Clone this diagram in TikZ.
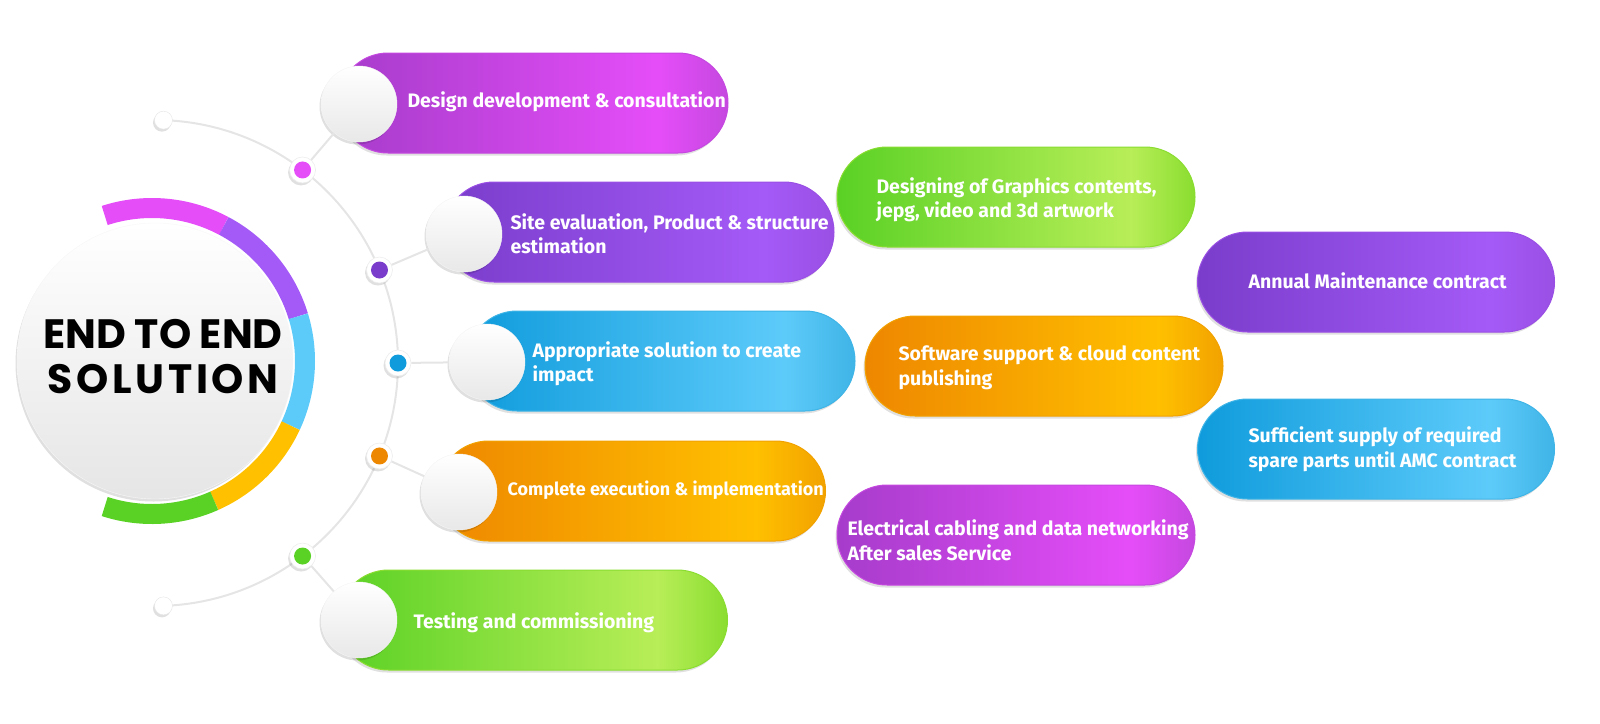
\documentclass[tikz,border=0pt]{standalone}
\usepackage{fontspec}
\setmainfont{Fira Sans}
\newfontfamily\headfont{Poppins}
\usetikzlibrary{shapes.misc,shadows}

% colours of the five themes
\definecolor{magL}{HTML}{A63CCB}\definecolor{magR}{HTML}{E54DF8}\definecolor{magE}{HTML}{C548E0}
\definecolor{purL}{HTML}{7A3DCB}\definecolor{purR}{HTML}{A45AF7}\definecolor{purE}{HTML}{9A4FE4}
\definecolor{bluL}{HTML}{0F9BDC}\definecolor{bluR}{HTML}{5DCBFA}\definecolor{bluE}{HTML}{3FB4E6}
\definecolor{oraL}{HTML}{EE8700}\definecolor{oraR}{HTML}{FFC000}\definecolor{oraE}{HTML}{F2A200}
\definecolor{grnL}{HTML}{5AD125}\definecolor{grnR}{HTML}{B8EE58}\definecolor{grnE}{HTML}{8ADD30}

% sfumature delle pillole (la pillola copre 25bp--75bp)
\pgfdeclarehorizontalshading{shMag}{100bp}{color(0bp)=(magL); color(25bp)=(magL); color(66bp)=(magR); color(75bp)=(magE); color(100bp)=(magE)}
\pgfdeclarehorizontalshading{shPur}{100bp}{color(0bp)=(purL); color(25bp)=(purL); color(66bp)=(purR); color(75bp)=(purE); color(100bp)=(purE)}
\pgfdeclarehorizontalshading{shBlu}{100bp}{color(0bp)=(bluL); color(25bp)=(bluL); color(66bp)=(bluR); color(75bp)=(bluE); color(100bp)=(bluE)}
\pgfdeclarehorizontalshading{shOra}{100bp}{color(0bp)=(oraL); color(25bp)=(oraL); color(66bp)=(oraR); color(75bp)=(oraE); color(100bp)=(oraE)}
\pgfdeclarehorizontalshading{shGrn}{100bp}{color(0bp)=(grnL); color(25bp)=(grnL); color(66bp)=(grnR); color(75bp)=(grnE); color(100bp)=(grnE)}

\tikzset{
  softshadow/.style={drop shadow={shadow xshift=-1.5pt,shadow yshift=-2.5pt,fill=black,opacity=.12}},
  pill/.style 2 args={rounded rectangle, minimum height=100pt, inner sep=0pt,
    shading=#1, draw=#2, line width=1pt, softshadow},
  knob/.style={circle, minimum size=76pt, inner sep=0pt, top color=white, bottom color=black!9,
    draw=black!4, softshadow},
  dot/.style={circle, minimum size=26pt, inner sep=0pt, fill=white, draw=black!7, line width=.6pt,
    softshadow, path picture={\fill[#1] (path picture bounding box.center) circle (8.5pt);}},
  endball/.style={circle, minimum size=18pt, inner sep=0pt, fill=white, draw=black!10, softshadow},
  track/.style={draw=black!10, line width=2pt},
  link/.style={draw=black!10, line width=2pt},
  ring/.style={line width=20pt},
  pilltext/.style={anchor=west, align=left, text=white, font=\bfseries\fontsize{19.5}{24.5}\selectfont}
}

\begin{document}
\begin{tikzpicture}[x=1pt,y=-1pt]
    \useasboundingbox (0,0) rectangle (1600,723);
    \coordinate (trackO) at (155,363);
    \coordinate (ringO) at (152,361);

    % Arco grigio
    \draw[track] ([shift={(-88:243)}]trackO) arc[start angle=-88,end angle=88,radius=243];

    % Cerchio centrale
    \node[circle, minimum size=276pt, top color=white, middle color=white, bottom color=black!10,
          draw=black!3, softshadow] (hub) at (155,361) {};
    \draw[ring, magR] ([shift={(-108:153)}]ringO) arc[start angle=-108,end angle=-62,radius=153];
    \draw[ring, purR] ([shift={(-62:153)}]ringO) arc[start angle=-62,end angle=-17,radius=153];
    \draw[ring, bluR] ([shift={(-17:153)}]ringO) arc[start angle=-17,end angle=25,radius=153];
    \draw[ring, oraR] ([shift={(25:153)}]ringO) arc[start angle=25,end angle=66,radius=153];
    \draw[ring, grnL] ([shift={(66:153)}]ringO) arc[start angle=66,end angle=108,radius=153];
    \node[font=\headfont\bfseries\fontsize{41}{45}\selectfont, align=center] (title) at (163,357)
        {END TO END\\{\addfontfeature{LetterSpace=9}SOLUTION}};

    % Punti sull'arco
    \node[endball] (topend) at ([shift={(-88:243)}]trackO) {};
    \node[endball] (botend) at ([shift={(88:243)}]trackO) {};
    \node[dot=magR] (dDesign) at ([shift={(-52.6:243)}]trackO) {};
    \node[dot=purL] (dSite) at ([shift={(-22.5:243)}]trackO) {};
    \node[dot=bluL] (dAppr) at ([shift={(0:243)}]trackO) {};
    \node[dot=oraL] (dExec) at ([shift={(22.5:243)}]trackO) {};
    \node[dot=grnL] (dTest) at ([shift={(52.6:243)}]trackO) {};

    % Passi a sinistra
    \node[pill={shMag}{magE}, minimum width=390pt] (pDesign) at (533,103) {};
    \node[pill={shPur}{purE}, minimum width=390pt] (pSite) at (639,232) {};
    \node[pill={shBlu}{bluE}, minimum width=388pt] (pAppr) at (661,361) {};
    \node[pill={shOra}{oraE}, minimum width=387pt] (pExec) at (632,491) {};
    \node[pill={shGrn}{grnE}, minimum width=389pt] (pTest) at (533,620) {};

    \node[knob] (cDesign) at (359,104) {};
    \node[knob] (cSite) at (464,234) {};
    \node[knob] (cAppr) at (487,362) {};
    \node[knob] (cExec) at (459,492) {};
    \node[knob] (cTest) at (359,620) {};

    \draw[link] (dDesign) -- (cDesign);
    \draw[link] (dSite) -- (cSite);
    \draw[link] (dAppr) -- (cAppr);
    \draw[link] (dExec) -- (cExec);
    \draw[link] (dTest) -- (cTest);

    \node[pilltext] (tDesign) at (404,102) {Design development \& consultation};
    \node[pilltext] (tSite) at (507,234) {Site evaluation, Product \& structure\\estimation};
    \node[pilltext] (tAppr) at (529,364) {Appropriate solution to create\\impact};
    \node[pilltext, font=\bfseries\fontsize{18}{24.5}\selectfont] (tExec) at (504,490) {Complete execution \& implementation};
    \node[pilltext] (tTest) at (410,623) {Testing and commissioning};

    % Servizi a destra
    \node[pill={shGrn}{grnE}, minimum width=358pt] (pGraph) at (1016,197) {};
    \node[pill={shPur}{purE}, minimum width=357pt] (pAmc) at (1376,282) {};
    \node[pill={shOra}{oraE}, minimum width=358pt] (pSoft) at (1044,366) {};
    \node[pill={shBlu}{bluE}, minimum width=357pt] (pSpare) at (1376,449) {};
    \node[pill={shMag}{magE}, minimum width=358pt] (pCable) at (1016,535) {};

    \node[pilltext] (tGraph) at (873,200) {Designing of Graphics contents,\\jepg, video and 3d artwork};
    \node[pilltext] (tAmc) at (1245,281) {Annual Maintenance contract};
    \node[pilltext] (tSoft) at (895,368) {Software support \& cloud content\\publishing};
    \node[pilltext] (tSpare) at (1245,449) {Sufficient supply of required\\spare parts until AMC contract};
    \node[pilltext] (tCable) at (844,540) {Electrical cabling and data networking\\After sales Service};
\end{tikzpicture}
\end{document}
